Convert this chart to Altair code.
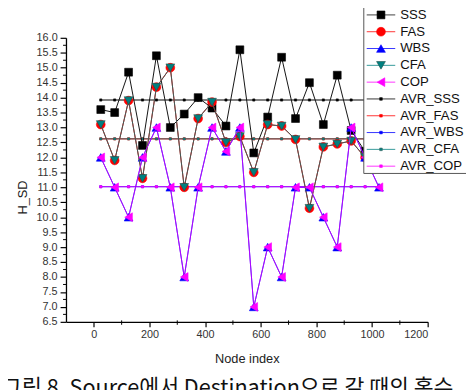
import altair as alt
import pandas as pd

# ---------------- data ----------------
node_index = [25, 75, 125, 175, 225, 275, 325, 375, 425, 475, 525,
              575, 625, 675, 725, 775, 825, 875, 925, 975, 1025]
sss = [13.6, 13.5, 14.85, 12.4, 15.4, 13.0, 13.45, 14.0, 13.65, 13.05, 15.6,
       12.15, 13.35, 15.35, 13.3, 14.5, 13.1, 14.75, 12.9, 12.2, 13.5]
fas = [13.1, 11.9, 13.9, 11.3, 14.35, 15.0, 11.0, 13.3, 13.85, 12.5, 12.7,
       11.5, 13.1, 13.05, 12.6, 10.3, 12.35, 12.45, 12.55, 12.0, 12.3]
wbs = [12.0, 11.0, 10.0, 12.0, 13.0, 11.0, 8.0, 11.0, 13.0, 12.2, 13.0,
       7.0, 9.0, 8.0, 11.0, 11.0, 10.0, 9.0, 13.0, 12.0, 11.0]
cfa = [13.1, 11.9, 13.9, 11.3, 14.35, 15.0, 11.0, 13.3, 13.85, 12.5, 12.7,
       11.5, 13.1, 13.05, 12.6, 10.3, 12.35, 12.45, 12.55, 12.0, 12.3]
cop = [12.0, 11.0, 10.0, 12.0, 13.0, 11.0, 8.0, 11.0, 13.0, 12.2, 13.0,
       7.0, 9.0, 8.0, 11.0, 11.0, 10.0, 9.0, 13.0, 12.0, 11.0]
avr_sss = 13.92
avr_fas = 12.62
avr_wbs = 11.02
avr_cfa = 12.62
avr_cop = 11.02

series_names = ["SSS", "FAS", "WBS", "CFA", "COP",
                "AVR_SSS", "AVR_FAS", "AVR_WBS", "AVR_CFA", "AVR_COP"]
x_ticks = [0, 200, 400, 600, 800, 1000, 1200]
x_minor = [100, 300, 500, 700, 900, 1100]
y_ticks = [6.5, 7.0, 7.5, 8.0, 8.5, 9.0, 9.5, 10.0, 10.5, 11.0, 11.5, 12.0,
           12.5, 13.0, 13.5, 14.0, 14.5, 15.0, 15.5, 16.0]
y_minor = [6.75, 7.25, 7.75, 8.25, 8.75, 9.25, 9.75, 10.25, 10.75, 11.25,
           11.75, 12.25, 12.75, 13.25, 13.75, 14.25, 14.75, 15.25, 15.75]
x_title = "Node index"
y_title = "H_SD"
caption = "그림 8. Source에서 Destination으로 갈 때의 홉수"

# ---------------- styles ----------------
W, H = 368, 289
FONT = "Liberation Sans"

style = {
    "SSS": dict(color="#000000", line="#111111", lop=1.0, shape="square", size=64, edge="#000000"),
    "FAS": dict(color="#ff0000", line="#ff0000", lop=1.0, shape="circle", size=80, edge="#ff0000"),
    "WBS": dict(color="#0000ff", line="#0000ff", lop=1.0, shape="triangle-up", size=80, edge="#0000ff"),
    "CFA": dict(color="#008080", line="#3a5f5b", lop=1.0, shape="triangle-down", size=80, edge="#1f4f4a"),
    "COP": dict(color="#ff00ff", line="#ff00ff", lop=0.7, shape="triangle-left", size=80, edge="#ff00ff"),
    "AVR_SSS": dict(color="#000000", line="#000000", lop=1.0, shape="square", size=5, edge="#000000"),
    "AVR_FAS": dict(color="#ff0000", line="#ff0000", lop=1.0, shape="square", size=5, edge="#ff0000"),
    "AVR_WBS": dict(color="#0000ff", line="#0000ff", lop=1.0, shape="square", size=5, edge="#0000ff"),
    "AVR_CFA": dict(color="#008080", line="#3a5f5b", lop=1.0, shape="square", size=5, edge="#3a5f5b"),
    "AVR_COP": dict(color="#ff00ff", line="#ff00ff", lop=0.75, shape="square", size=5, edge="#ff00ff"),
}
legend_line = {"CFA": "#008080", "AVR_CFA": "#008080"}

series_vals = {
    "SSS": sss, "FAS": fas, "WBS": wbs, "CFA": cfa, "COP": cop,
    "AVR_SSS": [avr_sss] * len(node_index),
    "AVR_FAS": [avr_fas] * len(node_index),
    "AVR_WBS": [avr_wbs] * len(node_index),
    "AVR_CFA": [avr_cfa] * len(node_index),
    "AVR_COP": [avr_cop] * len(node_index),
}

xs = alt.Scale(domain=[-100, 1200], nice=False, zero=False)
ys = alt.Scale(domain=[6.5, 16.0], nice=False, zero=False)

x_axis = alt.Axis(values=x_ticks, format="d", tickSize=5, tickWidth=1.2, tickColor="#000",
                  domainColor="#000", domainWidth=1.3, grid=False,
                  labelFont=FONT, labelFontSize=11, labelColor="#333", labelPadding=2,
                  title=x_title, titleFont=FONT, titleFontSize=13, titleFontWeight="normal",
                  titleColor="#222", titleY=41, titleBaseline="alphabetic")
y_axis = alt.Axis(values=y_ticks, format=".1f", tickSize=6, tickWidth=1.2, tickColor="#000",
                  domainColor="#000", domainWidth=1.3, grid=False,
                  labelFont=FONT, labelFontSize=11, labelColor="#333", labelPadding=3,
                  title=y_title, titleFont=FONT, titleFontSize=13, titleFontWeight="normal",
                  titleColor="#222", titleX=-40, titleY=162, titleBaseline="alphabetic",
                  titleAlign="center", titleAngle=270)

X = lambda f: alt.X(f, scale=xs, axis=x_axis)
Y = lambda f: alt.Y(f, scale=ys, axis=y_axis)

layers = []

def series_layers(name):
    st = style[name]
    d = pd.DataFrame({"node": node_index, "hsd": series_vals[name]})
    base = alt.Chart(d).encode(x=X("node:Q"), y=Y("hsd:Q"))
    ln = base.mark_line(color=st["line"], strokeWidth=1, opacity=st["lop"])
    pt = base.mark_point(shape=st["shape"], filled=True, size=st["size"], fill=st["color"],
                         stroke=st["edge"], strokeWidth=0.6, opacity=1)
    return [ln, pt]

order = ["AVR_SSS", "AVR_FAS", "AVR_WBS", "AVR_CFA", "AVR_COP",
         "SSS", "FAS", "WBS", "CFA", "COP"]
for nm in order:
    layers += series_layers(nm)

# minor ticks
ymin_df = pd.DataFrame({"v": y_minor})
layers.append(alt.Chart(ymin_df).mark_rule(color="#000", strokeWidth=1).encode(
    y=Y("v:Q"), x=alt.value(-3), x2=alt.value(0)))
xmin_df = pd.DataFrame({"v": x_minor})
layers.append(alt.Chart(xmin_df).mark_rule(color="#000", strokeWidth=1).encode(
    x=X("v:Q"), y=alt.value(H - 1.5), y2=alt.value(H + 3)))

# legend box
box_df = pd.DataFrame({"k": [0]})
layers.append(alt.Chart(box_df).mark_rect(fill="white", stroke="#555", strokeWidth=1).encode(
    x=alt.value(303), x2=alt.value(430), y=alt.value(-34), y2=alt.value(138)))

# legend entries
for i, nm in enumerate(series_names):
    st = style[nm]
    ly = -23.3 + 17.1 * i
    one = pd.DataFrame({"name": [nm]})
    layers.append(alt.Chart(one).mark_rule(strokeWidth=1, opacity=0.8,
                                           color=legend_line.get(nm, st["line"])).encode(
        x=alt.value(306), x2=alt.value(335), y=alt.value(ly)))
    layers.append(alt.Chart(one).mark_point(filled=True, opacity=1, strokeWidth=0.6,
                                            shape=st["shape"],
                                            size=st["size"] if st["size"] > 10 else 7,
                                            fill=st["color"], stroke=st["edge"]).encode(
        x=alt.value(320.5), y=alt.value(ly)))
    layers.append(alt.Chart(one).mark_text(align="left", baseline="middle", font=FONT,
                                           fontSize=13.4, color="#111").encode(
        x=alt.value(340), y=alt.value(ly), text="name:N"))

# caption
cap_df = pd.DataFrame({"t": [caption]})
layers.append(alt.Chart(cap_df).mark_text(align="left", baseline="alphabetic",
                                          font="Noto Sans CJK KR", fontSize=22,
                                          color="#111").encode(
    x=alt.value(-65), y=alt.value(363), text="t:N"))

chart = alt.layer(*layers).properties(
    width=W, height=H,
    autosize=alt.AutoSizeParams(type="none"),
    padding={"left": 59, "top": 27, "right": 39, "bottom": 66},
    background="white",
).configure_view(stroke=None)

chart.save("out.html", embed_options={"renderer": "svg", "actions": False})
